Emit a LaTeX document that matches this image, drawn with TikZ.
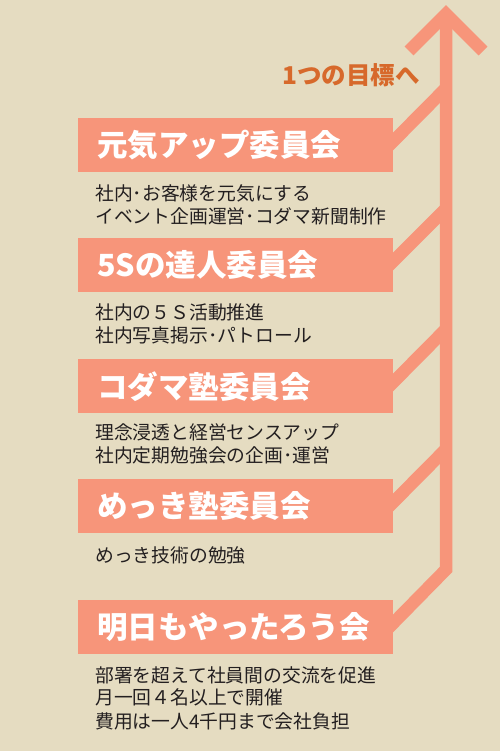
\documentclass[tikz,border=0pt]{standalone}
\usepackage{fontspec}
\setmainfont{Noto Sans CJK JP}
\definecolor{bgc}{HTML}{E5DCC1}
\definecolor{salmon}{HTML}{F7957A}
\definecolor{goalc}{HTML}{D7692B}
\definecolor{txt}{HTML}{231F20}
\begin{document}
\begin{tikzpicture}[x=1pt,y=-1pt,
  band/.style={draw=salmon,line width=12.5pt,line join=miter,line cap=butt},
  boxnode/.style={minimum width=315pt,minimum height=54pt,inner sep=0pt,anchor=north west},
  titlenode/.style={text=white,font=\fontsize{30.5}{34}\selectfont\bfseries,inner sep=0pt,anchor=west},
  descnode/.style={text=txt,font=\fontsize{18.8}{23}\selectfont,inner sep=0pt,anchor=west},
  goalnode/.style={text=goalc,font=\fontsize{24.5}{28}\selectfont\bfseries,inner sep=0pt,anchor=west}]
\useasboundingbox (0,0) rectangle (500,751);
\fill[bgc] (0,0) rectangle (500,751);
% junctions and arrow geometry
\coordinate (j1) at (446,88);
\coordinate (j2) at (446,208.5);
\coordinate (j3) at (446,329);
\coordinate (j4) at (446,449);
\coordinate (j5) at (446,569.5);
\coordinate (apex) at (446,14);
\coordinate (al) at (409,51);
\coordinate (ar) at (483,51);
% boxes (positions only, filled after the bands)
\path (78,118) node[boxnode] (b1) {}
      (78,238) node[boxnode] (b2) {}
      (78,359) node[boxnode] (b3) {}
      (78,479) node[boxnode] (b4) {}
      (78,600) node[boxnode] (b5) {};
% arrow
\draw[band] ([xshift=-10pt,yshift=-6pt]b5.east) -- (j5) -- (apex);
\draw[band] (al) -- (apex) -- (ar);
\draw[band] ([xshift=-10pt,yshift=-6pt]b1.east) -- (j1);
\draw[band] ([xshift=-10pt,yshift=-6pt]b2.east) -- (j2);
\draw[band] ([xshift=-10pt,yshift=-6pt]b3.east) -- (j3);
\draw[band] ([xshift=-10pt,yshift=-6pt]b4.east) -- (j4);
% filled boxes
\foreach \b in {b1,b2,b3,b4,b5}{\fill[salmon] (\b.north west) rectangle (\b.south east);}
% titles
\node[titlenode] (t1) at ([xshift=19pt]b1.west) {元気アップ委員会};
\node[titlenode] (t2) at ([xshift=19pt]b2.west) {5Sの達人委員会};
\node[titlenode] (t3) at ([xshift=19pt]b3.west) {コダマ塾委員会};
\node[titlenode] (t4) at ([xshift=19pt]b4.west) {めっき塾委員会};
\node[titlenode] (t5) at ([xshift=19pt]b5.west) {明日もやったろう会};
% goal label
\node[goalnode] (goal) at (282,75.5) {1つの目標へ};
% descriptions
\node[descnode] (d1a) at (95,193) {社内･お客様を元気にする};
\node[descnode] (d1b) at (95,216) {イベント企画運営･コダマ新聞制作};
\node[descnode] (d2a) at (95,312.5) {社内の５Ｓ活動推進};
\node[descnode] (d2b) at (95,335.5) {社内写真掲示･パトロール};
\node[descnode] (d3a) at (95,432.5) {理念浸透と経営センスアップ};
\node[descnode] (d3b) at (95,455) {社内定期勉強会の企画･運営};
\node[descnode] (d4a) at (95,555) {めっき技術の勉強};
\node[descnode] (d5a) at (95,675) {部署を超えて社員間の交流を促進};
\node[descnode] (d5b) at (95,697.5) {月一回４名以上で開催};
\node[descnode] (d5c) at (95,721) {費用は一人4千円まで会社負担};
\end{tikzpicture}
\end{document}
